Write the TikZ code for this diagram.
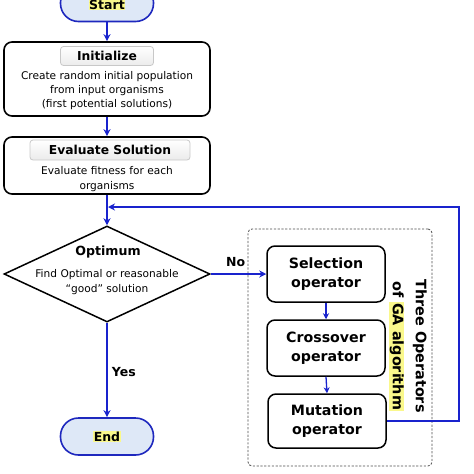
\documentclass[tikz,border=0pt]{standalone}
\usepackage{fontspec}
\setmainfont{DejaVu Sans}
\usetikzlibrary{shapes.geometric,arrows.meta,calc}
\definecolor{flow}{RGB}{25,35,205}
\definecolor{pillfill}{RGB}{222,232,247}
\definecolor{pillline}{RGB}{30,40,190}
\definecolor{hly}{RGB}{250,248,140}
\definecolor{tabfill}{RGB}{235,235,235}
\definecolor{tabline}{RGB}{200,200,200}
\newcommand{\hlt}[1]{{\setlength{\fboxsep}{0.6pt}\colorbox{hly}{#1}}}
\begin{document}
\begin{tikzpicture}[x=1pt,y=-1pt,
  pill/.style={draw=pillline,fill=pillfill,line width=1.6pt,rounded corners=18pt,minimum width=93pt,minimum height=37pt,inner sep=0pt},
  bigbox/.style={draw=black,line width=1.6pt,rounded corners=8pt,minimum width=206pt,inner sep=0pt},
  opbox/.style={draw=black,line width=1.5pt,rounded corners=8pt,minimum width=118pt,inner sep=0pt,align=center,font=\fontsize{14.2}{18.5}\selectfont\bfseries},
  tabbox/.style={draw=tabline,line width=0.8pt,rounded corners=3pt,top color=white,bottom color=tabfill,inner sep=0pt,font=\fontsize{12.3}{14}\selectfont\bfseries},
  body/.style={align=center,inner sep=0pt},
  flowline/.style={draw=flow,line width=1.8pt},
  flowarrow/.style={flowline,-{Stealth[length=7pt,width=7pt]}},
  lbl/.style={inner sep=0pt,font=\fontsize{12.5}{14}\selectfont\bfseries}]
\clip (0,0) rectangle (474,474);
\useasboundingbox (0,0) rectangle (474,474);
% Start
\node[pill] (start) at (107,3) {};
\node[inner sep=0pt,font=\fontsize{12.5}{14}\selectfont\bfseries] (starttxt) at (107,4.5) {\hlt{Start}};
% Initialize
\node[bigbox,minimum height=74pt] (init) at (107,79) {};
\node[tabbox,minimum width=93pt,minimum height=19pt] (inittab) at (107,56) {Initialize};
\node[body,font=\fontsize{10.6}{14}\selectfont] (inittxt) at (107,91) {Create random initial population\\from input organisms\\(first potential solutions)};
% Evaluate
\node[bigbox,minimum height=57pt] (eval) at (107,165.5) {};
\node[tabbox,minimum width=160pt,minimum height=20pt] (evaltab) at (110,150) {Evaluate Solution};
\node[body,font=\fontsize{10.6}{15}\selectfont] (evaltxt) at (107,179) {Evaluate fitness for each\\organisms};
% Diamond
\node[diamond,draw=black,line width=1.5pt,minimum width=206pt,minimum height=96pt,inner sep=0pt] (opt) at (107,274) {};
\node[inner sep=0pt,font=\fontsize{12.6}{14}\selectfont\bfseries] (opttitle) at (108,252) {Optimum};
\node[body,font=\fontsize{10.6}{15}\selectfont] (opttxt) at (107,282) {Find Optimal or reasonable\\``good'' solution};
% End
\node[pill] (end) at (107,436.5) {};
\node[inner sep=0pt,font=\fontsize{12.5}{14}\selectfont\bfseries] (endtxt) at (107,436.5) {\hlt{End}};
% Dashed group
\node[draw=black!70,dash pattern=on 2.2pt off 1.6pt,line width=0.8pt,rounded corners=4pt,minimum width=184pt,minimum height=237pt,inner sep=0pt] (grp) at (340,347.5) {};
% Operators
\node[opbox,minimum height=56pt] (sel) at (326,274) {Selection\\operator};
\node[opbox,minimum height=56pt] (cross) at (326,348) {Crossover\\operator};
\node[opbox,minimum height=54pt] (mut) at (327,421) {Mutation\\operator};
\node[rotate=-90,align=center,inner sep=0pt,font=\fontsize{14.4}{23}\selectfont\bfseries] (three) at (408,346) {Three Operators\\of \hlt{GA algorithm}};
% Connectors
\draw[flowarrow] (start.south) -- (init.north);
\draw[flowarrow] (init.south) -- (eval.north);
\draw[flowarrow] (eval.south) -- (opt.north);
\draw[flowarrow] (opt.east) -- node[lbl,above=6pt,pos=0.45] (no) {No} (sel.west);
\draw[flowarrow] (opt.south) -- node[lbl,right=4pt,pos=0.52] (yes) {Yes} (end.north);
\draw[flowarrow,line width=1.3pt,-{Stealth[length=6pt,width=6pt]}] (sel.south) -- (cross.north);
\draw[flowarrow,line width=1.3pt,-{Stealth[length=6pt,width=6pt]}] (cross.south) -- (mut.north);
\coordinate (loopa) at (459,421);
\coordinate (loopb) at (459,207);
\coordinate (loopc) at (108,207);
\draw[flowarrow,line width=1.6pt] (mut.east) -- (loopa) -- (loopb) -- (loopc);
\end{tikzpicture}
\end{document}
